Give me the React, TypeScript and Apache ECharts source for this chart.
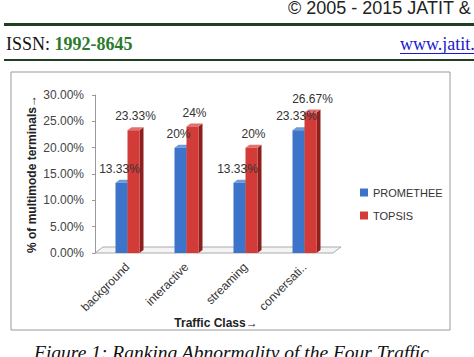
import React, { useEffect, useRef } from "react";
import * as echarts from "echarts";

const categories = ["background", "interactive", "streaming", "conversati.."];
const prometheeValues = [13.33, 20, 13.33, 23.33];
const topsisValues = [23.33, 24, 20, 26.67];
const prometheeLabels = ["13.33%", "20%", "13.33%", "23.33%"];
const topsisLabels = ["23.33%", "24%", "20%", "26.67%"];
const seriesNames = ["PROMETHEE", "TOPSIS"];
const yTicks = { min: 0, max: 30, interval: 5 };

const BW = 12;
const DX = 4;
const DY = 3;
const faceColors = [
  { front: "#3b74c8", side: "#24508f", top: "#6d9ad8" },
  { front: "#d23b38", side: "#8e1f1d", top: "#e2716e" },
];

function barX(base: number[], s: number) {
  return base[0] + (s === 0 ? -BW : 0);
}

function makeSeries(s: number, values: number[]) {
  return {
    type: "custom",
    name: seriesNames[s],
    data: values.map((v, i) => [i, v, s]),
    itemStyle: { color: faceColors[s].front },
    z: 2,
    renderItem: (params: any, api: any) => {
      const ci = api.value(0);
      const v = api.value(1);
      const base = api.coord([ci, 0]);
      const top = api.coord([ci, v]);
      const x0 = barX(base, s);
      const c = faceColors[s];
      return {
        type: "group",
        children: [
          {
            type: "polygon",
            shape: {
              points: [
                [x0 + BW, top[1]],
                [x0 + BW + DX, top[1] - DY],
                [x0 + BW + DX, base[1] - DY],
                [x0 + BW, base[1]],
              ],
            },
            style: { fill: c.side },
          },
          {
            type: "polygon",
            shape: {
              points: [
                [x0, top[1]],
                [x0 + DX, top[1] - DY],
                [x0 + BW + DX, top[1] - DY],
                [x0 + BW, top[1]],
              ],
            },
            style: { fill: c.top },
          },
          {
            type: "rect",
            shape: { x: x0, y: top[1], width: BW, height: base[1] - top[1] },
            style: { fill: c.front },
          },
        ],
      };
    },
  };
}

function makeLabelSeries(s: number, values: number[], labels: string[]) {
  return {
    type: "custom",
    name: seriesNames[s] + " labels",
    data: values.map((v, i) => [i, v, s]),
    z: 10,
    silent: true,
    renderItem: (params: any, api: any) => {
      const ci = api.value(0);
      const v = api.value(1);
      const base = api.coord([ci, 0]);
      const top = api.coord([ci, v]);
      const x0 = barX(base, s);
      return {
        type: "text",
        x: x0 + BW / 2 + (s === 0 ? -2 : 2),
        y: top[1] - DY - 5,
        style: {
          text: labels[params.dataIndex],
          fill: "#333",
          font: "12px 'Liberation Sans', sans-serif",
          align: "center",
          verticalAlign: "bottom",
        },
      };
    },
  };
}

export default function App() {
  const ref = useRef<HTMLDivElement>(null);
  useEffect(() => {
    if (!ref.current) return;
    const chart = echarts.init(ref.current, null, { renderer: "svg" });
    chart.setOption({
      animation: false,
      backgroundColor: "#ffffff",
      grid: { left: 98, width: 236, top: 95, height: 158 },
      legend: {
        left: 355,
        top: 182,
        orient: "vertical",
        itemWidth: 8,
        itemHeight: 8,
        itemGap: 12,
        icon: "rect",
        data: seriesNames,
        textStyle: { fontFamily: "Liberation Sans", fontSize: 11, color: "#333" },
      },
      xAxis: {
        type: "category",
        data: categories,
        axisLine: { show: false },
        axisTick: { show: false },
        axisLabel: {
          rotate: 45,
          margin: 12,
          fontFamily: "Liberation Sans",
          fontSize: 12,
          color: "#333",
        },
        name: "Traffic Class\u2192",
        nameLocation: "middle",
        nameGap: 62,
        nameTextStyle: { fontFamily: "Liberation Sans", fontWeight: "bold", fontSize: 12, color: "#222" },
      },
      yAxis: {
        type: "value",
        min: yTicks.min,
        max: yTicks.max,
        interval: yTicks.interval,
        offset: 3,
        axisLine: { show: true, lineStyle: { color: "#999" } },
        axisTick: { show: true, length: 3, lineStyle: { color: "#999" } },
        splitLine: { show: false },
        axisLabel: {
          formatter: (v: number) => v.toFixed(2) + "%",
          fontFamily: "Liberation Sans",
          fontSize: 12,
          color: "#444",
          margin: 11,
        },
        name: "% of multimode terminals\u2192",
        nameLocation: "middle",
        nameGap: 57,
        nameTextStyle: { fontFamily: "Liberation Sans", fontWeight: "bold", fontSize: 12, color: "#222" },
      },
      graphic: [
        {
          type: "text",
          left: 288,
          top: -1,
          style: { text: "\u00a9 2005 - 2015 JATIT & LLS", font: "18px 'Liberation Sans', Arial", fill: "#222" },
        },
        { type: "rect", shape: { x: 4, y: 23, width: 470, height: 3 }, style: { fill: "#1f4020" } },
        {
          type: "text",
          left: 6,
          top: 35,
          style: {
            rich: {
              a: { font: "18px 'Liberation Serif', serif", fill: "#111" },
              b: { font: "bold 18px 'Liberation Serif', serif", fill: "#2c7a2c" },
            },
            text: "{a|ISSN: }{b|1992-8645}",
          },
        },
        {
          type: "text",
          left: 400,
          top: 35,
          style: { text: "www.jatit.org", font: "18px 'Liberation Serif', serif", fill: "#1a1acc" },
        },
        { type: "rect", shape: { x: 400, y: 53, width: 80, height: 1 }, style: { fill: "#1a1acc" } },
        { type: "rect", shape: { x: 4, y: 59, width: 470, height: 2 }, style: { fill: "#1f4020" } },
        {
          type: "rect",
          shape: { x: 11, y: 72, width: 439, height: 258 },
          style: { fill: "none", stroke: "#9a9a9a", lineWidth: 1 },
          z: -1,
        },
        {
          type: "polygon",
          shape: { points: [[95, 253], [333, 253], [341, 247], [103, 247]] },
          style: { fill: "#f4f4f4", stroke: "#aaa", lineWidth: 1 },
          z: -1,
        },
        {
          type: "text",
          left: 34,
          top: 342,
          style: {
            text: "Figure 1: Ranking Abnormality of the Four Traffic",
            font: "italic 19.5px 'Liberation Serif', serif",
            fill: "#111",
          },
        },
      ],
      series: [
        makeSeries(0, prometheeValues),
        makeSeries(1, topsisValues),
        makeLabelSeries(0, prometheeValues, prometheeLabels),
        makeLabelSeries(1, topsisValues, topsisLabels),
      ],
    });
    return () => chart.dispose();
  }, []);
  return <div ref={ref} style={{ position: "fixed", left: 0, top: 0, width: 474, height: 357 }} />;
}
